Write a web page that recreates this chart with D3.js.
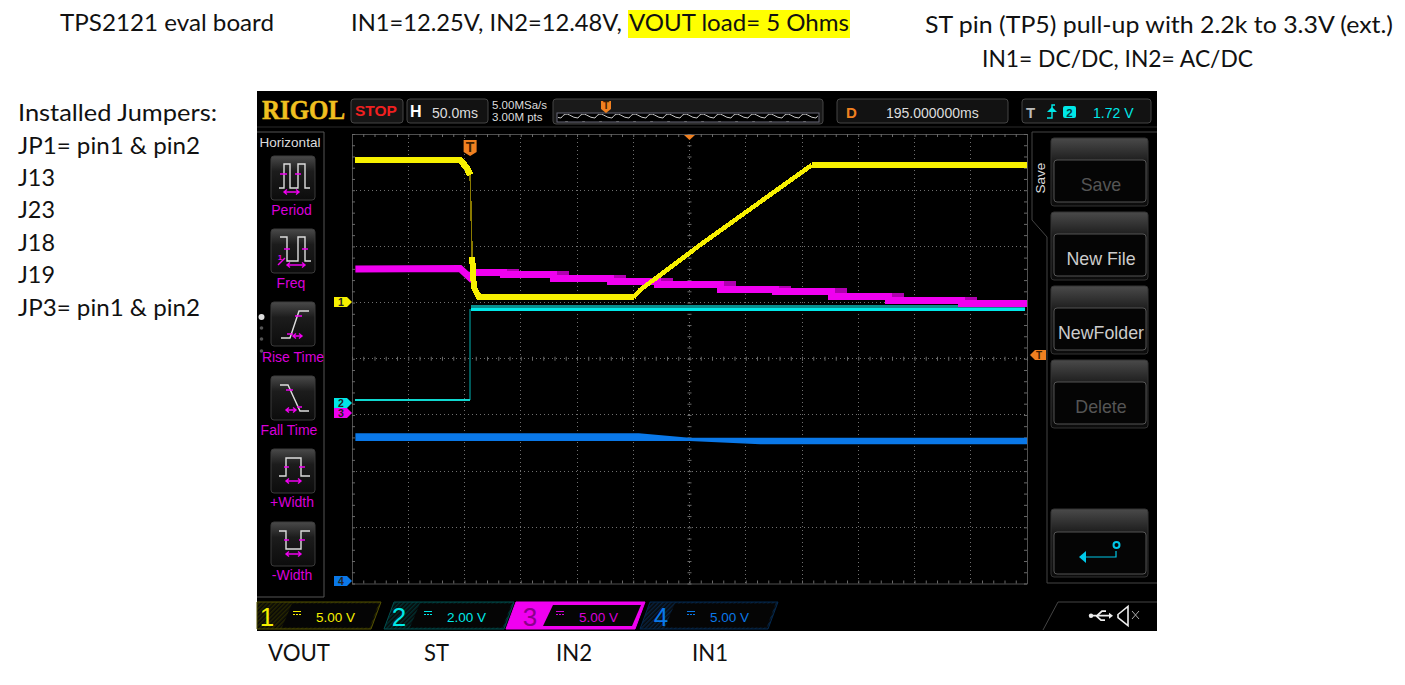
<!DOCTYPE html>
<html>
<head>
<meta charset="utf-8">
<title>TPS2121 eval board</title>
<script src="https://cdn.jsdelivr.net/npm/d3@7"></script>
<style>
  html, body { margin: 0; padding: 0; background: #fff; }
  svg { display: block; }
  .note { font-family: Lato, "Open Sans", sans-serif; font-size: 23.5px; fill: #111; }
  .ui { font-family: "Liberation Sans", Arimo, sans-serif; }
</style>
</head>
<body>
<div id="chart"></div>
<script>
// time in ms from trigger, volts per channel
var vout1T = [-102, -9, -2.7, 0];
var vout1V = [12.62, 12.62, 11.91, 11.29];
var voutEdgeT = [0, 1.8];
var voutEdgeV = [11.29, 4.0];
var voutLowT = [1.8, 3.3, 7.7, 145.5];
var voutLowV = [4.0, 1.33, 0.47, 0.44];
var voutRampT = [145.5, 151.1, 186.7, 204.4, 303.7];
var voutRampV = [0.44, 1.07, 3.73, 5.07, 12.18];
var voutTopT = [303.7, 495];
var voutTopV = [12.18, 12.22];

var stLowT = [-102, 0];
var stLowV = [0.1, 0.1];
var stEdgeT = [0, 0];
var stEdgeV = [0.1, 3.36];
var stHighT = [1, 493];
var stHighV = [3.36, 3.36];

var in2DipT = [-102, -9, -1.2, 0];
var in2DipV = [12.80, 12.84, 12.12, 12.53];
var in2T = [0, 29.3, 73.8, 124.4, 166.2, 222.2, 271.1, 320.9, 371.6, 436.4, 495];
var in2V = [12.53, 12.27, 11.94, 11.67, 11.38, 11.02, 10.76, 10.40, 10.04, 9.72, 9.72];

var in1T = [-102, 150, 195, 258, 495];
var in1Hi = [13.13, 13.13, 12.74, 12.74, 12.74];
var in1Lo = [12.45, 12.45, 12.45, 12.16, 12.16];

var channelNames = ["VOUT", "ST", "IN2", "IN1"];
var channelScales = ["5.00 V", "2.00 V", "5.00 V", "5.00 V"];
var leftButtons = ["Period", "Freq", "Rise Time", "Fall Time", "+Width", "-Width"];
var rightButtons = ["Save", "New File", "NewFolder", "Delete"];
var jumpers = ["Installed Jumpers:", "JP1= pin1 & pin2", "J13", "J23", "J18", "J19", "JP3= pin1 & pin2"];

var W = 1405, H = 685;
var YELLOW = "#f7f000", CYAN = "#00e8e8", MAGENTA = "#f000f0", BLUE = "#0a78e8", PURPLE = "#d800d8", ORANGE = "#f08020";

var svg = d3.select("#chart").append("svg").attr("width", W).attr("height", H);

var defs = svg.append("defs");
var btnGrad = defs.append("linearGradient").attr("id", "btn").attr("x1", 0).attr("x2", 0).attr("y1", 0).attr("y2", 1);
btnGrad.append("stop").attr("offset", 0).attr("stop-color", "#4a4a4a");
btnGrad.append("stop").attr("offset", 0.35).attr("stop-color", "#1c1c1c");
btnGrad.append("stop").attr("offset", 1).attr("stop-color", "#0c0c0c");
var hatchColors = [["h1", "#262600"], ["h2", "#003030"], ["h4", "#08223e"]];
hatchColors.forEach(function(h){
  var p = defs.append("pattern").attr("id", h[0]).attr("width", 3).attr("height", 3)
    .attr("patternUnits", "userSpaceOnUse").attr("patternTransform", "rotate(45)");
  p.append("rect").attr("width", 3).attr("height", 3).attr("fill", "#080808");
  p.append("rect").attr("width", 1.5).attr("height", 3).attr("fill", h[1]);
});
var zig = defs.append("pattern").attr("id", "zig").attr("width", 17).attr("height", 8).attr("patternUnits", "userSpaceOnUse");
zig.append("path").attr("d", "M0 6Q4 0 8.5 3T17 6").attr("fill", "none").attr("stroke", "#c8c8c8").attr("stroke-width", 1);
defs.append("clipPath").attr("id", "plot").append("rect")
  .attr("x", 352).attr("y", 134).attr("width", 675).attr("height", 450);

function label(parent, x, y, str, size, color, anchor, cls){
  return parent.append("text").attr("class", cls || "ui")
    .attr("x", x).attr("y", y)
    .attr("font-size", size).attr("fill", color)
    .attr("text-anchor", anchor || "start")
    .text(str);
}
function box(parent, x, y, w, h, stroke, fill, r){
  return parent.append("rect").attr("x", x).attr("y", y).attr("width", w).attr("height", h)
    .attr("rx", r === undefined ? 3 : r).attr("fill", fill || "#0b0b0b").attr("stroke", stroke || "#333");
}
function zipper(ts, vs){
  return ts.map(function(t, i){ return [t, vs[i]]; });
}

// ---- notes around the screenshot ----
function drawNotes(){
  svg.append("rect").attr("x", 628).attr("y", 10).attr("width", 222).attr("height", 28).attr("fill", "#ffff00");
  var n = svg.append("g");
  function note(x, y, s, len){
    var t = n.append("text").attr("class", "note").attr("x", x).attr("y", y).text(s);
    if (len) t.attr("textLength", len).attr("lengthAdjust", "spacingAndGlyphs");
  }
  note(60, 31, "TPS2121 eval board", 214);
  note(351, 31, "IN1=12.25V, IN2=12.48V,", 271);
  note(629, 31, "VOUT load= 5 Ohms", 220);
  note(925, 33, "ST pin (TP5) pull-up with 2.2k to 3.3V (ext.)", 468);
  note(982, 67, "IN1= DC/DC, IN2= AC/DC", 271);

  var ys = [121, 154, 186, 218, 251, 283, 316];
  var widths = [199, 182, 37, 37, 37, 37, 182];
  jumpers.forEach(function(s, i){ note(18, ys[i], s, widths[i]); });

  var xs = [268, 424, 556, 692], ws = [62, 25, 36, 36];
  channelNames.forEach(function(s, i){ note(xs[i], 661, s, ws[i]); });
}

// ---- scope frame, header, footer ----
function triggerTag(parent, x, y, w, hgt){
  var g = parent.append("g").attr("transform", "translate(" + x + "," + y + ")");
  g.append("path").attr("d", "M" + (-w / 2 - 1) + " 0h" + (w + 2) + "v" + (hgt - 4) + "l" + (-w / 2 - 1) + " 4l" + (-w / 2 - 1) + " -4z").attr("fill", ORANGE);
  label(g, 0, hgt - 4, "T", hgt - 2, "#402000", "middle").attr("font-weight", "bold");
}

function drawHeader(){
  svg.append("rect").attr("x", 257).attr("y", 91).attr("width", 900).attr("height", 540).attr("fill", "#000");
  svg.append("line").attr("x1", 257).attr("x2", 1157).attr("y1", 127).attr("y2", 127).attr("stroke", "#2a2a2a");

  var h = svg.append("g");
  h.append("text").attr("x", 262).attr("y", 119).attr("font-family", "Liberation Serif")
    .attr("font-weight", "bold").attr("font-size", 27).attr("fill", "#f0c020")
    .attr("stroke", "#f0c020").attr("stroke-width", 0.5)
    .attr("textLength", 83).attr("lengthAdjust", "spacingAndGlyphs").text("RIGOL");

  box(h, 351, 99, 52, 24, "#444", "#161616");
  label(h, 355, 116, "STOP", 15.5, "#f02020").attr("font-weight", "bold");

  box(h, 407, 99, 81, 24, "#444", "#121212");
  label(h, 410, 117, "H", 16, "#fff").attr("font-weight", "bold");
  label(h, 432, 118, "50.0ms", 14, "#ddd");
  label(h, 492, 109, "5.00MSa/s", 11.5, "#ddd");
  label(h, 492, 121, "3.00M pts", 11.5, "#ddd");

  box(h, 553, 99, 270, 25, "#444", "#1a1a1a");
  box(h, 557, 113, 262, 9, "#667", "#000", 0);
  h.append("rect").attr("x", 558).attr("y", 114).attr("width", 260).attr("height", 8).attr("fill", "url(#zig)");
  triggerTag(h, 606, 101, 8, 12);

  box(h, 837, 99, 171, 24, "#444", "#121212");
  label(h, 846, 118, "D", 15, ORANGE).attr("font-weight", "bold");
  label(h, 886, 118, "195.000000ms", 14, "#ddd");

  box(h, 1022, 99, 129, 24, "#444", "#121212");
  label(h, 1026, 118, "T", 15, "#bbb").attr("font-weight", "bold");
  h.append("path").attr("d", "M1055 105h-3v13h-5").attr("fill", "none").attr("stroke", CYAN).attr("stroke-width", 1.4);
  h.append("path").attr("d", "M1047 112l5 -5l5 5z").attr("fill", CYAN);
  h.append("rect").attr("x", 1063).attr("y", 106).attr("width", 13).attr("height", 12).attr("rx", 2).attr("fill", CYAN);
  label(h, 1069.5, 116.5, "2", 11.5, "#003c40", "middle").attr("font-weight", "bold");
  label(h, 1093, 118, "1.72 V", 14, CYAN);
}

function drawFooter(){
  var f = svg.append("g");
  var starts = [257, 384, 506, 640];
  var ends = [381, 514, 645, 778];
  var innerX = [282, 410, 543, 665];
  var digitX = [267, 399, 530, 661];
  var textX = [316, 447, 579, 710];
  var colors = [YELLOW, CYAN, PURPLE, BLUE];
  var hatch = ["url(#h1)", "url(#h2)", MAGENTA, "url(#h4)"];
  var top = 602, bot = 629, skew = 10;

  starts.forEach(function(x0, i){
    var x1 = ends[i];
    var tl = i === 0 ? x0 : x0 + skew;
    f.append("path")
      .attr("d", "M" + tl + " " + top + "L" + x1 + " " + top + "L" + (x1 - skew) + " " + bot + "L" + x0 + " " + bot + "Z")
      .attr("fill", hatch[i])
      .attr("stroke", i === 2 ? MAGENTA : d3.color(colors[i]).darker(3));
    var ix = innerX[i];
    var inset = i === 2 ? 3 : 1.5;
    var inner = "M" + (ix + skew) + " " + (top + inset) + "L" + (x1 - inset - 1) + " " + (top + inset) + "L" + (x1 - skew - inset) + " " + (bot - inset) + "L" + ix + " " + (bot - inset) + "Z";
    f.append("path").attr("d", inner).attr("fill", "#050505");
    label(f, digitX[i], 626, String(i + 1), 26, i === 2 ? "#8a008a" : colors[i], "middle");
    f.append("path").attr("d", "M" + (textX[i] - 23) + " 611.5h8M" + (textX[i] - 23) + " 614.5h2M" + (textX[i] - 20) + " 614.5h2M" + (textX[i] - 17) + " 614.5h2")
      .attr("stroke", colors[i]).attr("stroke-width", 1);
    label(f, textX[i], 622, channelScales[i], 13.5, colors[i]);
  });

  f.append("path").attr("d", "M1043 630L1058 602H1157").attr("fill", "none").attr("stroke", "#444");
  // usb + speaker
  f.append("path").attr("d", "M1091 615.7H1110M1097 615.7l5 -4.5h4M1096 615.7l5 4.5h4").attr("fill", "none").attr("stroke", "#eee").attr("stroke-width", 1.8);
  f.append("circle").attr("cx", 1091).attr("cy", 615.7).attr("r", 2.2).attr("fill", "#eee");
  f.append("path").attr("d", "M1109 612.7l4 3l-4 3z").attr("fill", "#eee");
  f.append("path").attr("d", "M1118 614.5l10 -8v19l-10 -8z").attr("fill", "none").attr("stroke", "#eee").attr("stroke-width", 1.6);
  f.append("path").attr("d", "M1132 611l7 8M1139 611l-7 8").attr("stroke", "#aaa");
}

// ---- left measure menu ----
function arrowPath(x0, x1, y){
  return "M" + x0 + " " + y + "H" + x1 +
    "M" + (x0 + 3) + " " + (y - 2.5) + "L" + x0 + " " + y + "L" + (x0 + 3) + " " + (y + 2.5) +
    "M" + (x1 - 3) + " " + (y - 2.5) + "L" + x1 + " " + y + "L" + (x1 - 3) + " " + (y + 2.5);
}

function drawLeftPanel(){
  var g = svg.append("g");
  g.append("path").attr("d", "M257 132H324V597H257").attr("fill", "none").attr("stroke", "#555");
  label(g, 290, 147, "Horizontal", 13.5, "#ddd", "middle");

  var icons = [
    "M8 32h5V8h6v24h8V8h7v24h5",
    "M9 8h7v24h11V8h7v24h6",
    "M10 36h9L28 9h10",
    "M9 9h8L29 35h9",
    "M8 27h7V9h15v18h9",
    "M8 9h7v18h15V9h9"
  ];
  var marks = [
    "M9 18h7M24 18h6" + arrowPath(13, 28, 36),
    "M13 20h6M31 20h6" + arrowPath(16, 34, 36),
    "M16 32h6M24 14h7" + arrowPath(22, 31, 34),
    "M15 14h7M26 31h5" + arrowPath(15, 25, 34),
    "M13 18h5M28 18h6" + arrowPath(15, 30, 32),
    "M13 18h5M28 18h6" + arrowPath(15, 30, 32)
  ];
  var tops = [156, 229, 302, 376, 449, 522];
  var labelY = [215, 288, 362, 435, 507, 580];
  var labelX = [291.5, 291, 293, 289, 292, 292];
  leftButtons.forEach(function(s, i){
    var b = g.append("g").attr("transform", "translate(271," + tops[i] + ")");
    box(b, 0, 0, 44, 44, "#3a3a3a", "url(#btn)", 3);
    b.append("path").attr("d", icons[i]).attr("fill", "none").attr("stroke", "#ddd").attr("stroke-width", 1.4);
    b.append("path").attr("d", marks[i]).attr("stroke", MAGENTA).attr("stroke-width", 1.4).attr("fill", "none");
    if (i === 1) {
      b.append("path").attr("d", "M7 36L14 29").attr("stroke", MAGENTA).attr("stroke-width", 1.4);
      label(b, 9, 31, "1", 8, MAGENTA, "middle").attr("font-weight", "bold");
    }
    label(g, labelX[i], labelY[i], s, 14, PURPLE, "middle");
  });

  var dots = [317, 328, 339, 351];
  dots.forEach(function(y, i){
    g.append("circle").attr("cx", 261.5).attr("cy", y).attr("r", i === 0 ? 3 : 1.8).attr("fill", i === 0 ? "#ddd" : "#555");
  });
}

// ---- right save menu ----
function drawRightPanel(){
  var g = svg.append("g");
  g.append("path").attr("d", "M1157 132H1032V220L1047 237V583H1157").attr("fill", "none").attr("stroke", "#444");
  label(g, 0, 0, "Save", 13.5, "#ddd", "middle").attr("transform", "translate(1045,178) rotate(-90)");

  var tops = [138, 212, 286, 360];
  var colors = ["#555", "#ccc", "#ccc", "#555"];
  rightButtons.forEach(function(s, i){
    var y = tops[i];
    box(g, 1051, y, 97, 68, "#333", "url(#btn)", 3);
    box(g, 1054, y + 22, 92, 42, "#555", "#050505", 3);
    label(g, 1101, y + 53, s, 17.8, colors[i], "middle");
  });
  box(g, 1051, 509, 97, 68, "#333", "url(#btn)", 3);
  box(g, 1054, 532, 92, 42, "#555", "#050505", 3);
  g.append("path").attr("d", "M1116 551V557H1085").attr("fill", "none").attr("stroke", "#00c8e8").attr("stroke-width", 1.2);
  g.append("path").attr("d", "M1079 557l7 -6v12z").attr("fill", "#00c8e8");
  g.append("circle").attr("cx", 1116.5).attr("cy", 545).attr("r", 3).attr("fill", "none").attr("stroke", "#00c8e8").attr("stroke-width", 2);
}

// ---- grid + axes ----
var divX = d3.scaleLinear().domain([0, 12]).range([352, 1027]);
var divY = d3.scaleLinear().domain([0, 8]).range([134, 583.5]);

function drawGrid(){
  var g = svg.append("g");
  var gridColor = "#707070";
  g.selectAll(".vgrid").data(d3.range(1, 12)).enter().append("line")
    .attr("x1", divX).attr("x2", divX).attr("y1", divY(0)).attr("y2", divY(8))
    .attr("stroke", gridColor).attr("stroke-dasharray", "1,3").attr("shape-rendering", "crispEdges");
  g.selectAll(".hgrid").data(d3.range(1, 8)).enter().append("line")
    .attr("y1", divY).attr("y2", divY).attr("x1", divX(0)).attr("x2", divX(12))
    .attr("stroke", gridColor).attr("stroke-dasharray", "1,3").attr("shape-rendering", "crispEdges");

  var xTicks = d3.range(0, 60).map(function(d){ return d / 5; }).concat([12]);
  var yTicks = d3.range(0, 40).map(function(d){ return d / 5; }).concat([8]);
  function styleAxis(sel){
    sel.selectAll("path").attr("stroke", "#505050");
    sel.selectAll("line").attr("stroke", "#6a6a6a");
    sel.selectAll("text").remove();
  }
  g.append("g").attr("transform", "translate(0," + divY(0) + ")")
    .call(d3.axisBottom(divX).tickValues(xTicks).tickSize(3).tickSizeOuter(0)).call(styleAxis);
  g.append("g").attr("transform", "translate(0," + divY(8) + ")")
    .call(d3.axisTop(divX).tickValues(xTicks).tickSize(3).tickSizeOuter(0)).call(styleAxis);
  g.append("g").attr("transform", "translate(" + divX(0) + ",0)")
    .call(d3.axisRight(divY).tickValues(yTicks).tickSize(3).tickSizeOuter(0)).call(styleAxis);
  g.append("g").attr("transform", "translate(" + divX(12) + ",0)")
    .call(d3.axisLeft(divY).tickValues(yTicks).tickSize(3).tickSizeOuter(0)).call(styleAxis);
  // center cross ticks
  g.append("g").attr("transform", "translate(" + (divX(6) - 2) + ",0)")
    .call(d3.axisRight(divY).tickValues(yTicks).tickSize(4)).call(styleAxis)
    .select("path").remove();
  g.append("g").attr("transform", "translate(0," + (divY(4) - 2) + ")")
    .call(d3.axisBottom(divX).tickValues(xTicks).tickSize(4)).call(styleAxis)
    .select("path").remove();
}

// ---- traces ----
var tScale = d3.scaleLinear().domain([-105, 495]).range([352, 1027]);
// zero level of each channel, 1 div = 56.25px
var y1 = d3.scaleLinear().domain([0, 5]).range([302, 245.75]);
var y2 = d3.scaleLinear().domain([0, 2]).range([403, 346.75]);
var y3 = d3.scaleLinear().domain([0, 5]).range([413, 356.75]);
var y4 = d3.scaleLinear().domain([0, 5]).range([581, 524.75]);

function trace(g, pts, yScale, color, width, curve, extra){
  var line = d3.line()
    .x(function(d){ return tScale(d[0]); })
    .y(function(d){ return yScale(d[1]); })
    .curve(curve || d3.curveLinear);
  return g.append("path").datum(pts).attr("d", line)
    .attr("fill", "none").attr("stroke", color).attr("stroke-width", width)
    .attr("shape-rendering", extra || "crispEdges");
}

function drawTraces(){
  var g = svg.append("g").attr("clip-path", "url(#plot)");

  // IN1, noisy envelope
  var blue = d3.area()
    .x(function(d){ return tScale(d[0]); })
    .y0(function(d){ return y4(d[2]); })
    .y1(function(d){ return y4(d[1]); });
  g.append("path").datum(in1T.map(function(t, i){ return [t, in1Hi[i], in1Lo[i]]; }))
    .attr("d", blue).attr("fill", BLUE);

  // ST
  trace(g, zipper(stEdgeT, stEdgeV), y2, "#005a5a", 1.5);
  trace(g, zipper(stLowT, stLowV), y2, "#10d8d0", 2.5);
  trace(g, zipper(stHighT, stHighV), y2, "#0a8c8c", 5).attr("transform", "translate(0,-1)");
  trace(g, zipper(stHighT, stHighV), y2, CYAN, 3).attr("transform", "translate(0,1)");

  // IN2, the second pass makes the steps overlap like the acquired band does
  trace(g, zipper(in2DipT, in2DipV), y3, MAGENTA, 7, d3.curveLinear, "auto");
  trace(g, zipper(in2T, in2V), y3, "#b000b0", 7, d3.curveStepAfter).attr("transform", "translate(12,0)");
  trace(g, zipper(in2T, in2V), y3, MAGENTA, 7, d3.curveStepAfter);

  // VOUT
  trace(g, zipper(voutEdgeT, voutEdgeV), y1, "#8a7a00", 1.5);
  trace(g, zipper(vout1T, vout1V), y1, YELLOW, 6.5);
  trace(g, zipper(voutLowT, voutLowV), y1, YELLOW, 6);
  trace(g, zipper(voutRampT, voutRampV), y1, YELLOW, 4.5);
  trace(g, zipper(voutTopT, voutTopV), y1, YELLOW, 6);
}

function drawMarkers(){
  var g = svg.append("g");
  var ys = [y1(0), y2(0), y3(0), y4(0)];
  var cols = [YELLOW, CYAN, MAGENTA, BLUE];
  ys.forEach(function(y, i){
    g.append("path").attr("d", "M334 " + (y - 5) + "h13l5 5l-5 5h-13z").attr("fill", cols[i]);
    label(g, 341, y + 4, String(i + 1), 10.5, "#222", "middle").attr("font-weight", "bold");
  });
  triggerTag(g, tScale(0), 140, 11, 16);
  g.append("path").attr("d", "M684 135h11l-5.5 5z").attr("fill", ORANGE);
  g.append("path").attr("d", "M1030 355l5 -5h11v10h-11z").attr("fill", ORANGE);
  label(g, 1039, 359, "T", 10, "#402000", "middle").attr("font-weight", "bold");
}

drawNotes();
drawHeader();
drawFooter();
drawLeftPanel();
drawRightPanel();
drawGrid();
drawTraces();
drawMarkers();
</script>
</body>
</html>
